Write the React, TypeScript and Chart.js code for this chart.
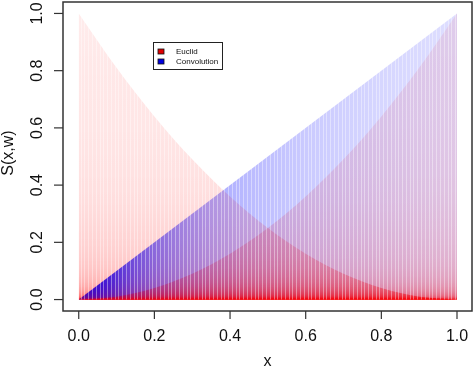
import React, { useEffect, useRef } from "react";
import { Chart, registerables } from "chart.js";

Chart.register(...registerables);

// x positions where the curves were read
const xGrid = [0, 0.1, 0.2, 0.3, 0.4, 0.5, 0.6, 0.7, 0.8, 0.9, 1];

// Euclid: outer envelopes of the S(x,w) family (rising and falling branch)
const euclidRising = [0, 0.01, 0.04, 0.09, 0.16, 0.25, 0.36, 0.49, 0.64, 0.81, 1];
const euclidFalling = [1, 0.81, 0.64, 0.49, 0.36, 0.25, 0.16, 0.09, 0.04, 0.01, 0];

// Convolution: envelope of the S(x,w) family, a straight line
const convolutionX = [0, 1];
const convolutionY = [0, 1];

const tickValues = [0, 0.2, 0.4, 0.6, 0.8, 1];
const tickLabels = ["0.0", "0.2", "0.4", "0.6", "0.8", "1.0"];
const legendLabels = ["Euclid", "Convolution"];
const xTitle = "x";
const yTitle = "S(x,w)";

const LEGEND_COLORS = ["#e00000", "#0000e0"];
const FONT = "'Liberation Sans', Arial, Helvetica, sans-serif";
const RED_K = 0.042; // density strength per red layer
const BLUE_K = 0.14;

// plot box (R style: data range padded by 4%)
const BOX = { left: 63, top: 2, right: 472, bottom: 311 };

function redGradient(chart: any) {
  const ys = chart.scales.y;
  const c = chart.ctx;
  const g = c.createLinearGradient(0, ys.getPixelForValue(0), 0, ys.getPixelForValue(1));
  const stops = [0, 0.001, 0.002, 0.004, 0.007, 0.01, 0.015, 0.02, 0.03, 0.045, 0.06, 0.08, 0.11, 0.15, 0.2, 0.27, 0.35, 0.45, 0.6, 0.8, 1];
  stops.forEach((t) => {
    const a = 1 - Math.exp(-RED_K / Math.sqrt(Math.max(t, 0.0002)));
    g.addColorStop(t, `rgba(255,0,0,${a.toFixed(4)})`);
  });
  return g;
}

function blueGradient(chart: any) {
  const xs = chart.scales.x;
  const c = chart.ctx;
  const g = c.createLinearGradient(xs.getPixelForValue(0), 0, xs.getPixelForValue(1), 0);
  const stops = [0, 0.004, 0.008, 0.015, 0.025, 0.04, 0.06, 0.08, 0.11, 0.15, 0.2, 0.27, 0.35, 0.45, 0.6, 0.8, 1];
  stops.forEach((t) => {
    const a = Math.min(0.93, 1 - Math.exp(-BLUE_K / Math.max(t, 0.002)));
    g.addColorStop(t, `rgba(0,0,255,${a.toFixed(4)})`);
  });
  return g;
}

const rAxesPlugin = {
  id: "rAxes",
  beforeDraw(chart: any) {
    const ctx = chart.ctx;
    ctx.save();
    ctx.fillStyle = "#ffffff";
    ctx.fillRect(0, 0, chart.width, chart.height);
    ctx.restore();
  },
  afterDatasetsDraw(chart: any) {
    // thin light gaps between the vertical hairlines of the original plot
    const ctx = chart.ctx;
    const xs = chart.scales.x;
    const ys = chart.scales.y;
    const top = ys.getPixelForValue(1);
    const bot = ys.getPixelForValue(0);
    ctx.save();
    ctx.fillStyle = "rgba(255,255,255,0.4)";
    for (let i = 0; i < 100; i++) {
      const px = Math.round(xs.getPixelForValue((i + 0.5) / 100));
      ctx.fillRect(px, top, 1, bot - top);
    }
    ctx.restore();
  },
  afterDraw(chart: any) {
    const ctx = chart.ctx;
    const xs = chart.scales.x;
    const ys = chart.scales.y;
    ctx.save();
    ctx.strokeStyle = "#333333";
    ctx.lineWidth = 1.5;
    ctx.strokeRect(BOX.left, BOX.top, BOX.right - BOX.left, BOX.bottom - BOX.top);

    ctx.fillStyle = "#111111";
    ctx.font = `16px ${FONT}`;
    ctx.lineWidth = 1.2;
    tickValues.forEach((v, i) => {
      const px = xs.getPixelForValue(v);
      ctx.beginPath();
      ctx.moveTo(px, BOX.bottom);
      ctx.lineTo(px, BOX.bottom + 8);
      ctx.stroke();
      ctx.textAlign = "center";
      ctx.textBaseline = "middle";
      ctx.fillText(tickLabels[i], px, 337);
    });
    tickValues.forEach((v, i) => {
      const py = ys.getPixelForValue(v);
      ctx.beginPath();
      ctx.moveTo(BOX.left, py);
      ctx.lineTo(BOX.left - 9, py);
      ctx.stroke();
      ctx.save();
      ctx.translate(38, py);
      ctx.rotate(-Math.PI / 2);
      ctx.textAlign = "center";
      ctx.textBaseline = "middle";
      ctx.fillText(tickLabels[i], 0, 0);
      ctx.restore();
    });
    ctx.textAlign = "center";
    ctx.textBaseline = "alphabetic";
    ctx.fillText(xTitle, (BOX.left + BOX.right) / 2, 366);
    ctx.save();
    ctx.translate(9, 153);
    ctx.rotate(-Math.PI / 2);
    ctx.textBaseline = "middle";
    ctx.fillText(yTitle, 0, 0);
    ctx.restore();

    // legend
    ctx.fillStyle = "#ffffff";
    ctx.fillRect(153, 42, 69, 27);
    ctx.strokeStyle = "#222222";
    ctx.lineWidth = 1;
    ctx.strokeRect(153.5, 42.5, 69, 27);
    ctx.font = `8px ${FONT}`;
    ctx.textAlign = "left";
    ctx.textBaseline = "middle";
    legendLabels.forEach((lab, i) => {
      const cy = 51 + i * 10;
      ctx.fillStyle = LEGEND_COLORS[i];
      ctx.fillRect(158, cy - 2, 6, 5);
      ctx.strokeStyle = "#111111";
      ctx.lineWidth = 0.8;
      ctx.strokeRect(158, cy - 2, 6, 5);
      ctx.fillStyle = "#111111";
      ctx.fillText(lab, 176, cy + 0.5);
    });
    ctx.restore();
  },
};

export default function App() {
  const ref = useRef<HTMLCanvasElement | null>(null);
  useEffect(() => {
    document.body.style.margin = "0";
    const canvas = ref.current;
    if (!canvas) return;
    const redFill = (c: any) => (c.chart.chartArea ? redGradient(c.chart) : "rgba(0,0,0,0)");
    const blueFill = (c: any) => (c.chart.chartArea ? blueGradient(c.chart) : "rgba(0,0,0,0)");
    const euclidSet = (vals: number[], layer: number) => ({
      label: legendLabels[0],
      data: xGrid.map((x, i) => ({ x, y: vals[i] })),
      fill: "origin",
      backgroundColor: redFill,
      borderWidth: 0,
      borderColor: "rgba(0,0,0,0)",
      pointRadius: 0,
      cubicInterpolationMode: "monotone",
      order: layer,
    });
    const convolutionSet = {
      label: legendLabels[1],
      data: convolutionX.map((x, i) => ({ x, y: convolutionY[i] })),
      fill: "origin",
      backgroundColor: blueFill,
      borderWidth: 0,
      borderColor: "rgba(0,0,0,0)",
      pointRadius: 0,
      order: 1,
    };
    // chart area ends at x = 1 on the right; the R box (drawn by the plugin) is wider
    const xMin = -0.04 * (457 - 63) / (457 - 63 - 15.2);
    const chart = new Chart(canvas, {
      type: "line",
      data: {
        datasets: [
          euclidSet(euclidRising, 0),
          euclidSet(euclidFalling, 0),
          convolutionSet,
          euclidSet(euclidRising, 2),
          euclidSet(euclidFalling, 2),
        ] as any,
      },
      options: {
        animation: false,
        responsive: false,
        maintainAspectRatio: false,
        layout: { padding: { left: 63, right: 474 - 457, top: 2, bottom: 57 } },
        plugins: { legend: { display: false }, tooltip: { enabled: false } },
        scales: {
          x: { type: "linear", min: xMin, max: 1, display: false },
          y: { type: "linear", min: -0.04, max: 1.04, display: false },
        },
      } as any,
      plugins: [rAxesPlugin],
    });
    return () => chart.destroy();
  }, []);
  return (
    <div style={{ width: 474, height: 368 }}>
      <canvas ref={ref} width={474} height={368} />
    </div>
  );
}
